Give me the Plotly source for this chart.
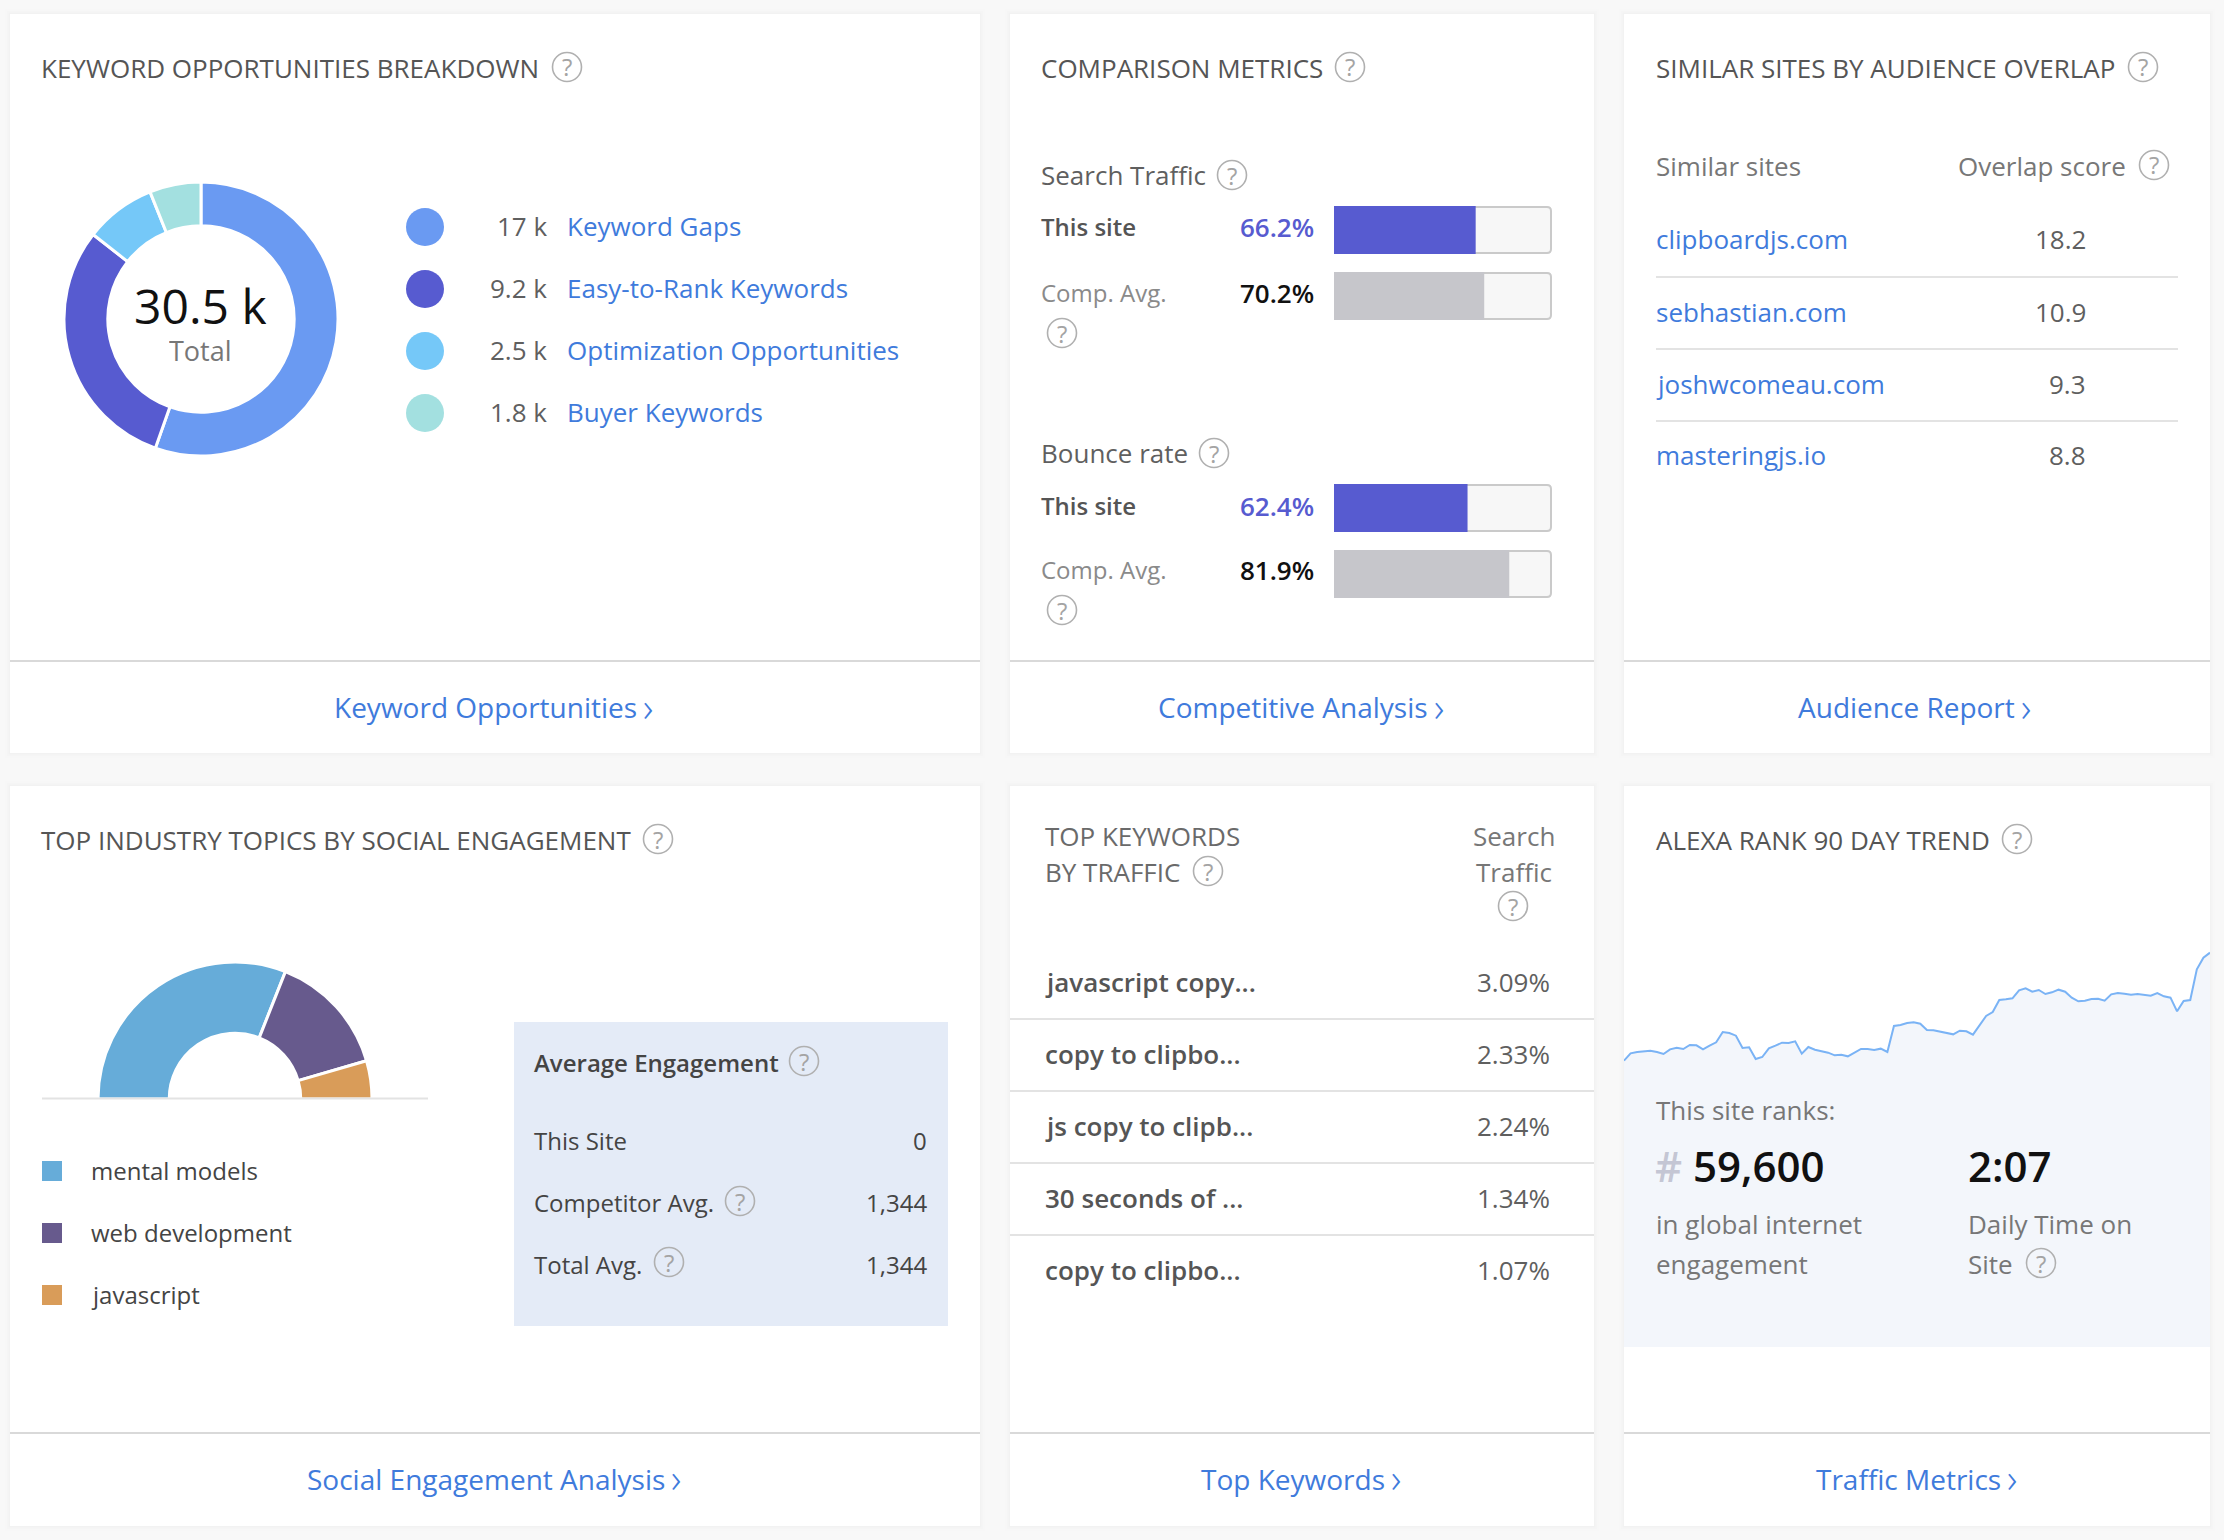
import plotly.graph_objects as go

W, H = 2224, 1540
FONT = "Open Sans"
TITLE_C, TEXT_C, MUTED_C, LINK_C = "#555555", "#5f5f5f", "#777777", "#3f7bdc"

# ---------- data ----------
kw_labels = ["Keyword Gaps", "Easy-to-Rank Keywords", "Optimization Opportunities", "Buyer Keywords"]
kw_values = [16.9, 9.2, 2.55, 1.85]
kw_text = ["17 k", "9.2 k", "2.5 k", "1.8 k"]
kw_colors = ["#6a9af2", "#575bd0", "#75c8f8", "#a3e0e0"]

bar_groups = ["This site", "Comp. Avg."]
search_traffic = [66.2, 70.2]
bounce_rate = [62.4, 81.9]

similar_sites = ["clipboardjs.com", "sebhastian.com", "joshwcomeau.com", "masteringjs.io"]
overlap_scores = ["18.2", "10.9", "9.3", "8.8"]

topic_labels = ["mental models", "web development", "javascript"]
topic_values = [62, 29, 9]
topic_colors = ["#66acd9", "#675a8d", "#d99c59"]

keywords = ["javascript copy...", "copy to clipbo...", "js copy to clipb...", "30 seconds of ...", "copy to clipbo..."]
keyword_traffic = ["3.09%", "2.33%", "2.24%", "1.34%", "1.07%"]

trend_values = [859, 881, 885, 886, 889, 885, 879, 893, 898, 894, 906, 905, 893, 904, 914, 945, 942, 934,
                897, 899, 864, 870, 896, 904, 913, 912, 917, 880, 900, 892, 888, 883, 875, 877, 872, 883,
                894, 894, 891, 895, 885, 963, 966, 972, 974, 970, 951, 950, 946, 940, 938, 949, 947, 937,
                964, 993, 1005, 1041, 1043, 1046, 1070, 1076, 1066, 1071, 1059, 1064, 1072, 1066, 1048,
                1037, 1039, 1044, 1045, 1039, 1058, 1062, 1060, 1057, 1059, 1056, 1054, 1062, 1052, 1048,
                1007, 1038, 1041, 1133, 1168, 1183]
trend_days = list(range(len(trend_values)))


def px(x):
    return x / W


def py(y):
    return 1 - y / H


shapes, notes = [], []


def rect(x0, y0, x1, y1, fill, line=None, lw=0, layer="below", rx=False):
    shapes.append(dict(type="circle" if rx else "rect", xref="paper", yref="paper", layer=layer,
                       x0=px(x0), x1=px(x1), y0=py(y0), y1=py(y1), fillcolor=fill,
                       line=dict(color=line or "rgba(0,0,0,0)", width=lw)))


def round_rect(x0, y0, x1, y1, r, fill, line, lw):
    X0, X1, Y0, Y1 = px(x0), px(x1), py(y0), py(y1)
    rx, ry = r / W, r / H
    d = (f"M{X0 + rx},{Y0} L{X1 - rx},{Y0} Q{X1},{Y0} {X1},{Y0 - ry} L{X1},{Y1 + ry} Q{X1},{Y1} {X1 - rx},{Y1} "
         f"L{X0 + rx},{Y1} Q{X0},{Y1} {X0},{Y1 + ry} L{X0},{Y0 - ry} Q{X0},{Y0} {X0 + rx},{Y0} Z")
    shapes.append(dict(type="path", path=d, xref="paper", yref="paper", layer="below", fillcolor=fill,
                       line=dict(color=line, width=lw)))


def hline(x0, x1, y, color, lw=2, layer="below"):
    shapes.append(dict(type="line", xref="paper", yref="paper", layer=layer, x0=px(x0), x1=px(x1),
                       y0=py(y), y1=py(y), line=dict(color=color, width=lw)))


def note(x, y, text, size=25, color=TEXT_C, anchor="left", weight=400, height=None):
    n = dict(xref="paper", yref="paper", x=px(x), y=py(y - 1), text=text, showarrow=False,
             xanchor=anchor, yanchor="middle", align=anchor, borderpad=0, borderwidth=0,
             font=dict(family=FONT, size=size, color=color, weight=weight))
    if height:
        n["height"] = height
    notes.append(n)


def help_icon(x, y):
    rect(x - 14.5, y - 14.5, x + 14.5, y + 14.5, "rgba(0,0,0,0)", "#b0b0b0", 1.6, rx=True, layer="above")
    note(x, y + 1, "?", 24, "#a4a4a4", "center")


# ---------- cards ----------
cards = [(10, 14, 980, 753, 661), (1010, 14, 1594, 753, 661), (1624, 14, 2210, 753, 661),
         (10, 786, 980, 1526, 1433), (1010, 786, 1594, 1526, 1433), (1624, 786, 2210, 1526, 1433)]
for x0, y0, x1, y1, ln in cards:
    for g, a in ((5, .005), (3, .007), (1.5, .010)):
        rect(x0 - g, y0 - g, x1 + g, y1 + g, f"rgba(0,0,0,{a})")
    rect(x0, y0, x1, y1, "#ffffff")

rect(514, 1022, 948, 1326, "#e4ebf7")
for x0, y0, x1, y1 in [(1335, 207, 1551, 253), (1335, 273, 1551, 319), (1335, 485, 1551, 531), (1335, 551, 1551, 597)]:
    round_rect(x0, y0, x1, y1, 4, "#f7f7f7", "#cacaca", 2)
for x0, y0, x1, y1, ln in cards:
    hline(x0, x1, ln, "#d9d9d9", 2)

# ---------- titles ----------
for x, y, t, ix in [(41, 69, "KEYWORD OPPORTUNITIES BREAKDOWN", 567), (1041, 69, "COMPARISON METRICS", 1350),
                    (1656, 69, "SIMILAR SITES BY AUDIENCE OVERLAP", 2143),
                    (41, 841, "TOP INDUSTRY TOPICS BY SOCIAL ENGAGEMENT", 658),
                    (1656, 841, "ALEXA RANK 90 DAY TREND", 2017)]:
    note(x, y, t, 26, TITLE_C)
    help_icon(ix, y - 2)

# ---------- footer links ----------
for end, y, t in [(637, 708, "Keyword Opportunities"), (1428, 708, "Competitive Analysis"),
                  (2015, 708, "Audience Report"), (665, 1479.5, "Social Engagement Analysis"),
                  (1385, 1479.5, "Top Keywords"), (2001, 1479.5, "Traffic Metrics")]:
    note(end, y, t, 28, LINK_C, "right")
    note(end + 6, y - 1, "›", 40, LINK_C, "left", weight=300)

# ---------- card 1 ----------
fig = go.Figure()
fig.add_trace(go.Pie(values=kw_values, labels=kw_labels, hole=0.68, sort=False, direction="clockwise",
                     rotation=0, textinfo="none", showlegend=False,
                     marker=dict(colors=kw_colors, line=dict(color="#ffffff", width=3)),
                     domain=dict(x=[px(64), px(338)], y=[py(456), py(182)])))
note(201, 306, "30.5 k", 48, "#111111", "center", height=52)
note(201, 351, "Total", 27, MUTED_C, "center", height=30)
for i, (lab, txt, col) in enumerate(zip(kw_labels, kw_text, kw_colors)):
    y = 227 + i * 62
    rect(406, y - 19, 444, y + 19, col, rx=True)
    note(547, y, txt, 26, TEXT_C, "right")
    note(567, y, lab, 26, LINK_C)

# ---------- card 2 : bars ----------
note(1041, 176, "Search Traffic", 26, TEXT_C)
help_icon(1232, 175)
note(1041, 454, "Bounce rate", 26, TEXT_C)
help_icon(1214, 453)
for axis_i, (dom, vals, yl, yc) in enumerate([((197, 329), search_traffic, 227, 294),
                                              ((475, 607), bounce_rate, 506, 571)]):
    sfx = str(axis_i + 1)
    fig.add_trace(go.Bar(y=bar_groups, x=vals, orientation="h", width=0.727, showlegend=False,
                         marker=dict(color=["#575bd0", "#c6c6cb"], line=dict(width=0)),
                         xaxis="x" + sfx, yaxis="y" + sfx))
    fig.update_layout({
        "xaxis" + sfx: dict(domain=[px(1334), px(1548)], range=[0, 100], visible=False, fixedrange=True,
                            anchor="y" + sfx),
        "yaxis" + sfx: dict(domain=[py(dom[1]), py(dom[0])], autorange="reversed", visible=False,
                            type="category", anchor="x" + sfx, fixedrange=True),
    })
    note(1041, yl, bar_groups[0], 24, "#555555", weight=600)
    note(1041, yc, bar_groups[1], 24, "#8a8a8a")
    note(1314, yl + 1, f"{vals[0]}%", 26, "#575bd0", "right", 600)
    note(1314, yc, f"{vals[1]}%", 26, "#111111", "right", 600)
    help_icon(1062, yc + 39)

# ---------- card 3 : table ----------
note(1656, 167, "Similar sites", 26, MUTED_C)
note(2126, 167, "Overlap score", 26, MUTED_C, "right")
help_icon(2154, 165)
for i, (site, score) in enumerate(zip(similar_sites, overlap_scores)):
    y = 240.5 + i * 72
    note(1656, y, site, 26, LINK_C)
    note(2086, y, score, 26, TEXT_C, "right")
    if i < 3:
        hline(1656, 2178, y + 36.5, "#e3e3e3", 2)

# ---------- card 4 ----------
half = sum(topic_values)
fig.add_trace(go.Pie(values=topic_values + [half], labels=topic_labels + [" "], hole=0.48, sort=False,
                     direction="clockwise", rotation=270, textinfo="none", showlegend=False,
                     marker=dict(colors=topic_colors + ["rgba(255,255,255,0)"],
                                 line=dict(color=["#ffffff"] * 3 + ["rgba(255,255,255,0)"], width=3)),
                     domain=dict(x=[px(98), px(372)], y=[py(1236), py(962)])))
hline(42, 428, 1098.5, "#e3e3e3", 2, layer="above")
for i, (lab, col) in enumerate(zip(topic_labels, topic_colors)):
    y = 1172 + i * 62
    rect(42, y - 11, 62, y + 9, col)
    note(91, y - 0.5, lab, 24, "#444444")

note(534, 1063, "Average Engagement", 24, "#444444", weight=600)
help_icon(804, 1061)
note(534, 1141, "This Site", 24, "#444444")
note(534, 1203, "Competitor Avg.", 24, "#444444")
help_icon(740, 1201)
note(534, 1265, "Total Avg.", 24, "#444444")
help_icon(669, 1262)
for y, v in [(1141, "0"), (1203, "1,344"), (1265, "1,344")]:
    note(927, y, v, 24, "#444444", "right")

# ---------- card 5 ----------
note(1045, 837, "TOP KEYWORDS", 26, "#6a6a6a")
note(1045, 873, "BY TRAFFIC", 26, "#6a6a6a")
help_icon(1208, 871)
note(1514, 837, "Search", 26, MUTED_C, "center")
note(1514, 873, "Traffic", 26, MUTED_C, "center")
help_icon(1513, 906)
for i, (kw, tr) in enumerate(zip(keywords, keyword_traffic)):
    y = 983 + i * 72
    note(1045, y, kw, 26, "#555555", weight=600)
    note(1550, y, tr, 26, TEXT_C, "right")
    if i < 4:
        hline(1010, 1594, y + 36, "#e3e3e3", 2)

# ---------- card 6 : area ----------
fig.add_trace(go.Scatter(x=trend_days, y=trend_values, mode="lines", showlegend=False, fill="tozeroy",
                         fillcolor="#f3f6fb", line=dict(color="#7ab3f5", width=2),
                         xaxis="x3", yaxis="y3", hoverinfo="skip"))
fig.update_layout(
    xaxis3=dict(domain=[px(1624), px(2210)], range=[0, trend_days[-1]], visible=False, anchor="y3", fixedrange=True),
    yaxis3=dict(domain=[py(1347), py(880)], range=[0, 1401], visible=False, anchor="x3", fixedrange=True),
)
note(1656, 1111, "This site ranks:", 26, MUTED_C)
note(1655, 1166, "#", 42, "#c4c6d4", weight=600)
note(1693, 1166, "59,600", 42, "#111111", weight=600)
note(1968, 1166, "2:07", 42, "#111111", weight=600)
note(1656, 1225, "in global internet", 26, MUTED_C)
note(1656, 1265, "engagement", 26, MUTED_C)
note(1968, 1225, "Daily Time on", 26, MUTED_C)
note(1968, 1265, "Site", 26, MUTED_C)
help_icon(2041, 1263)

fig.update_layout(width=W, height=H, margin=dict(l=0, r=0, t=0, b=0, pad=0), autosize=False,
                  paper_bgcolor="#f8f8f8", plot_bgcolor="rgba(0,0,0,0)", barmode="overlay",
                  font=dict(family=FONT), shapes=shapes, annotations=notes, showlegend=False)
fig.write_html("out.html", config=dict(displayModeBar=False),
               post_script="document.body.style.margin='0';document.documentElement.style.background='#f8f8f8';")
